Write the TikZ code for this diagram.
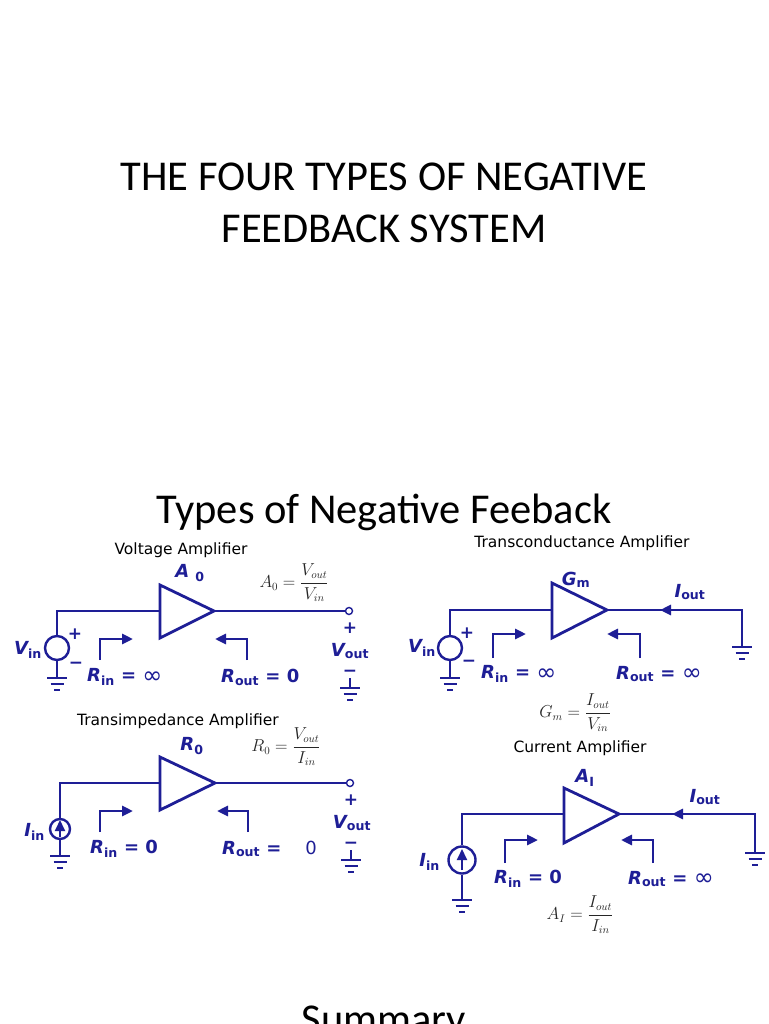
\documentclass[tikz,border=0pt]{standalone}
\usepackage{amsmath}
\usepackage{fontspec}
\setmainfont{Carlito}
\newfontfamily\vf{DejaVu Sans}
\newfontfamily\vb{DejaVu Sans Bold}
\usetikzlibrary{arrows.meta}
\definecolor{cb}{HTML}{1E1E96}
\newcommand{\myinf}{{\vf\upshape\fontsize{24}{24}\selectfont\raisebox{-1.5pt}{∞}}}
\begin{document}
\begin{tikzpicture}[x=1pt,y=-1pt,
  w/.style={draw=cb,line width=2.8pt},
  lab/.style={text=cb,font=\vb\fontsize{18}{18}\selectfont\itshape,inner sep=0},
  sub/.style={text=cb,font=\vb\fontsize{17}{17}\selectfont,inner sep=0},
  ttl/.style={font=\vf\fontsize{15.5}{15.5}\selectfont,inner sep=0},
  frm/.style={text=black!85,font=\fontsize{16}{16}\selectfont,inner sep=0},
  arr/.style={w,-{Triangle[length=11pt,width=10pt]}},
  gnd/.pic={\draw[w] (0,0)--(0,10); \draw[w] (-10,10)--(10,10); \draw[w] (-6.5,16)--(6.5,16); \draw[w] (-3,22)--(3,22);}]
\useasboundingbox[fill=white] (0,0) rectangle (768,1024);
\node[font=\fontsize{42.5}{52}\selectfont,align=center] (t1) at (384,203) {THE FOUR TYPES OF NEGATIVE\\FEEDBACK SYSTEM};
\node[font=\fontsize{42.5}{42.5}\selectfont] (t2) at (384,512) {Types of Negative Feeback};
\node[font=\fontsize{42.5}{42.5}\selectfont,anchor=north] (t3) at (384,1002) {Summary};

% ---------- Voltage amplifier
\node[ttl] (vt) at (181,550) {Voltage Amplifier};
\coordinate (a1) at (160,585); \coordinate (b1) at (160,638); \coordinate (o1) at (214,611);
\draw[w,line join=miter] (a1)--(b1)--(o1)--cycle;
\node[circle,draw=cb,line width=2.4pt,minimum size=24pt,inner sep=0] (s1) at (57,648) {};
\draw[w] (s1.north)--(57,611)--(160,611);
\draw[w] (s1.south)--(57,668); \pic at (57,668) {gnd};
\node[sub] at (75,634) {+}; \node[sub] at (76,665) {−};
\node[lab,anchor=east] at (42,650) {V\textsubscript{\upshape in}};
\node[circle,draw=cb,line width=1.4pt,minimum size=7pt,inner sep=0] (c1) at (349,611) {};
\draw[w] (o1)--(c1.west);
\node[sub] at (350,628) {+};
\node[lab] at (350,651) {V\textsubscript{\upshape out}};
\node[sub] at (350,673) {−};
\pic at (350,678) {gnd};
\draw[arr] (100,660)--(100,639)--(133,639);
\draw[arr] (247,660)--(247,639)--(215,639);
\node[lab,anchor=west] at (87,677) {R\textsubscript{\upshape in} \upshape= \myinf};
\node[lab,anchor=west] at (221,677) {R\textsubscript{\upshape out} \upshape = 0};
\node[lab] at (190,573) {A \textsubscript{\upshape 0}};
\node[frm] at (294,583) {$A_0=\dfrac{V_{out}}{V_{in}}$};

% ---------- Transimpedance
\node[ttl] (it) at (178,721) {Transimpedance Amplifier};
\coordinate (a2) at (160,757); \coordinate (b2) at (160,810); \coordinate (o2) at (215,783);
\draw[w,line join=miter] (a2)--(b2)--(o2)--cycle;
\node[circle,draw=cb,line width=2.4pt,minimum size=20pt,inner sep=0] (s2) at (60,829) {};
\draw[arr,line width=2pt] (60,837)--(60,820);
\draw[w] (s2.north)--(60,783)--(160,783);
\draw[w] (s2.south)--(60,846); \pic at (60,846) {gnd};
\node[lab,anchor=east] at (45,832) {I\textsubscript{\upshape in}};
\node[circle,draw=cb,line width=1.4pt,minimum size=7pt,inner sep=0] (c2) at (350,783) {};
\draw[w] (o2)--(c2.west);
\node[sub] at (351,800) {+};
\node[lab] at (352,823) {V\textsubscript{\upshape out}};
\node[sub] at (351,845) {−};
\pic at (351,850) {gnd};
\draw[arr] (100,832)--(100,811)--(133,811);
\draw[arr] (248,832)--(248,811)--(217,811);
\node[lab,anchor=west] at (90,849) {R\textsubscript{\upshape in} \upshape= 0};
\node[lab,anchor=west] at (222,849) {R\textsubscript{\upshape out} \upshape =};
\node[font=\vf\fontsize{18}{18}\selectfont,text=cb] at (311,848) {0};
\node[lab] at (192,746) {R\textsubscript{\upshape 0}};
\node[frm] at (286,747) {$R_0=\dfrac{V_{out}}{I_{in}}$};

% ---------- Transconductance
\node[ttl] (gt) at (582,543) {Transconductance Amplifier};
\coordinate (a3) at (552,583); \coordinate (b3) at (552,638); \coordinate (o3) at (607,610);
\draw[w,line join=miter] (a3)--(b3)--(o3)--cycle;
\node[circle,draw=cb,line width=2.4pt,minimum size=24pt,inner sep=0] (s3) at (450,648) {};
\draw[w] (s3.north)--(450,610)--(552,610);
\draw[w] (s3.south)--(450,668); \pic at (450,668) {gnd};
\node[sub] at (467,633) {+}; \node[sub] at (469,663) {−};
\node[lab,anchor=east] at (436,648) {V\textsubscript{\upshape in}};
\coordinate (g3) at (742,637);
\draw[w] (o3)--(742,610)--(g3); \pic at (g3) {gnd};
\draw[arr] (700,610)--(660,610);
\node[lab] at (690,592) {I\textsubscript{\upshape out}};
\draw[arr] (493,658)--(493,634)--(526,634);
\draw[arr] (640,658)--(640,634)--(607,634);
\node[lab,anchor=west] at (481,674) {R\textsubscript{\upshape in} \upshape= \myinf};
\node[lab,anchor=west] at (616,674) {R\textsubscript{\upshape out} \upshape= \myinf};
\node[lab] at (576,580) {G\textsubscript{\upshape m}};
\node[frm] at (575,713) {$G_m=\dfrac{I_{out}}{V_{in}}$};

% ---------- Current amplifier
\node[ttl] (ct) at (580,748) {Current Amplifier};
\coordinate (a4) at (564,788); \coordinate (b4) at (564,843); \coordinate (o4) at (619,814);
\draw[w,line join=miter] (a4)--(b4)--(o4)--cycle;
\node[circle,draw=cb,line width=2.4pt,minimum size=27pt,inner sep=0] (s4) at (462,860) {};
\draw[arr,line width=2pt] (462,870)--(462,849);
\draw[w] (s4.north)--(462,814)--(564,814);
\draw[w] (s4.south)--(462,890); \pic at (462,890) {gnd};
\node[lab,anchor=east] at (440,862) {I\textsubscript{\upshape in}};
\coordinate (g4) at (755,843);
\draw[w] (o4)--(755,814)--(g4); \pic at (g4) {gnd};
\draw[arr] (712,814)--(672,814);
\node[lab] at (705,797) {I\textsubscript{\upshape out}};
\draw[arr] (505,863)--(505,840)--(538,840);
\draw[arr] (653,863)--(653,840)--(621,840);
\node[lab,anchor=west] at (494,879) {R\textsubscript{\upshape in} \upshape= 0};
\node[lab,anchor=west] at (628,879) {R\textsubscript{\upshape out} \upshape= \myinf};
\node[lab] at (585,778) {A\textsubscript{\upshape I}};
\node[frm] at (580,915) {$A_I=\dfrac{I_{out}}{I_{in}}$};
\end{tikzpicture}
\end{document}
